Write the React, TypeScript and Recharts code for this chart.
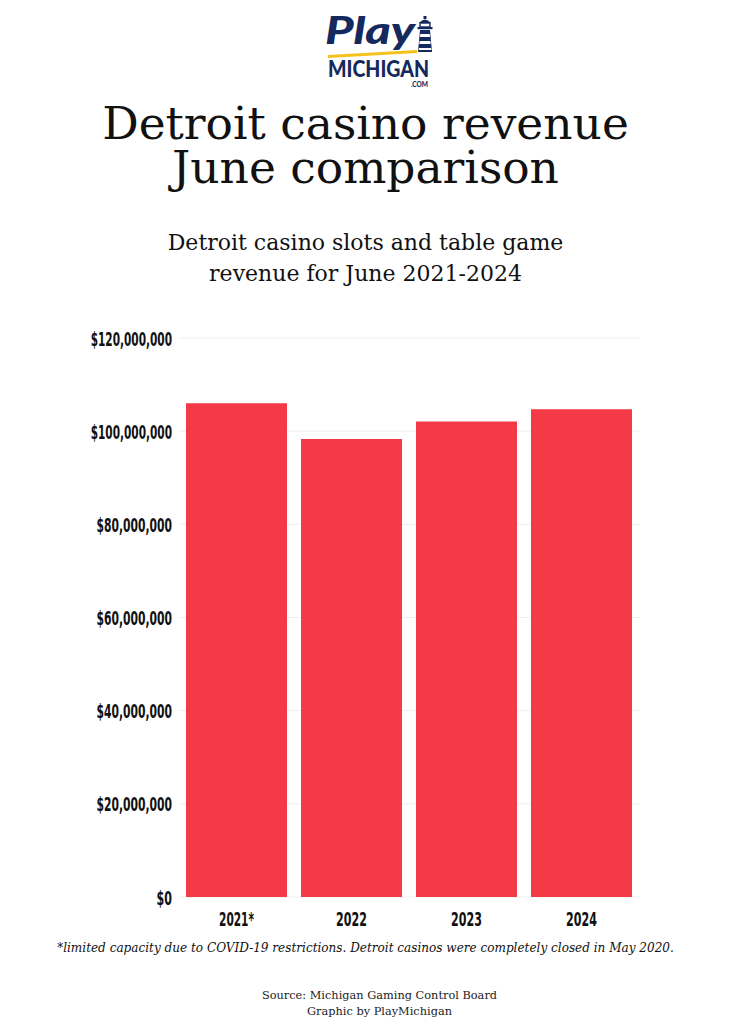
import { BarChart, Bar, XAxis, YAxis, CartesianGrid } from 'recharts'

const years = ['2021*', '2022', '2023', '2024']
const revenue = [106000000, 98300000, 102100000, 104700000]
const yTicks = [0, 20000000, 40000000, 60000000, 80000000, 100000000, 120000000]

const chartData = years.map((year, i) => ({ year, revenue: revenue[i] }))

const NAVY = '#14295e'
const BAR_RED = '#f43a46'

const fmtMoney = (v: number) => '$' + v.toLocaleString('en-US')

// the reference uses a very narrow gothic face, so squeeze DejaVu Condensed to fit
const squeezedWidth = (label: string) =>
  label.split('').reduce((w, ch) => w + (ch === ',' ? 3.1 : ch === '1' ? 5.8 : ch === '*' ? 6 : 7.7), 0)

const YTick = ({ x, y, payload }: any) => {
  const label = fmtMoney(payload.value)
  return (
    <text
      x={x}
      y={y}
      dy={7.5}
      textAnchor="end"
      fontFamily="DejaVu Sans Condensed"
      fontWeight="bold"
      fontSize={20}
      fill="#111"
      textLength={squeezedWidth(label)}
      lengthAdjust="spacingAndGlyphs"
    >
      {label}
    </text>
  )
}

const XTick = ({ x, y, payload }: any) => {
  const label = String(payload.value)
  return (
    <text
      x={x}
      y={y}
      dy={29}
      textAnchor="middle"
      fontFamily="DejaVu Sans Condensed"
      fontWeight="bold"
      fontSize={20}
      fill="#111"
      textLength={squeezedWidth(label)}
      lengthAdjust="spacingAndGlyphs"
    >
      {label}
    </text>
  )
}

const Logo = () => (
  <svg width={140} height={90} style={{ position: 'absolute', left: 310, top: 0 }}>
    <text x={15} y={44} fontFamily="Lato" fontStyle="italic" fontWeight={900} fontSize={38} fill={NAVY} textLength={90} lengthAdjust="spacingAndGlyphs">
      Play
    </text>
    <polygon points="18,55 107,50 107,53 18,58" fill="#f5c21b" />
    <text x={18} y={77} fontFamily="Lato" fontWeight={900} fontSize={23} fill={NAVY} textLength={101} lengthAdjust="spacingAndGlyphs">
      MICHIGAN
    </text>
    <text x={118} y={87} textAnchor="end" fontFamily="Lato" fontWeight={900} fontSize={6.5} fill={NAVY}>
      .COM
    </text>
    {/* lighthouse */}
    <rect x={113.5} y={16} width={3} height={3} fill={NAVY} />
    <path d="M109,23 Q115,16 121,23 Z" fill={NAVY} />
    <rect x={110} y={23} width={10} height={4} fill="none" stroke={NAVY} strokeWidth={1.4} />
    <rect x={107.5} y={27} width={15} height={2.2} fill={NAVY} />
    <polygon points="110,30 120,30 122,52 108,52" fill={NAVY} />
    <polygon points="110.3,34 119.7,34 120,37 110,37" fill="#fff" />
    <polygon points="109.6,41 120.4,41 120.7,44 109.3,44" fill="#fff" />
    <polygon points="108.9,48 121.1,48 121.3,50 108.7,50" fill="#fff" />
  </svg>
)

const titleStyle = {
  position: 'absolute' as const, left: 0, width: 731, height: 44, textAlign: 'center' as const,
  fontFamily: 'DejaVu Serif', fontSize: 45.5, lineHeight: '44px', color: '#111', whiteSpace: 'nowrap' as const,
}

export default function App() {
  return (
    <div style={{ position: 'absolute', left: 0, top: 0, width: 731, height: 1024, background: '#fff', overflow: 'hidden' }}>
      <Logo />
      <div style={{ ...titleStyle, top: 102 }}>Detroit casino revenue</div>
      <div style={{ ...titleStyle, top: 146 }}>June comparison</div>
      <div
        style={{
          position: 'absolute', top: 227, left: 0, width: 731, textAlign: 'center',
          fontFamily: 'DejaVu Serif', fontSize: 22, lineHeight: '31px', color: '#111',
        }}
      >
        Detroit casino slots and table game
        <br />
        revenue for June 2021-2024
      </div>

      <div style={{ position: 'absolute', top: 320, left: 0 }}>
        <BarChart width={731} height={620} data={chartData} margin={{ top: 18, right: 92, bottom: 13, left: 0 }}>
          <CartesianGrid vertical={false} stroke="#eeeeee" />
          <XAxis dataKey="year" axisLine={false} tickLine={false} tickSize={0} tickMargin={0} height={30} tick={<XTick />} interval={0} />
          <YAxis
            domain={[0, 120000000]}
            ticks={yTicks}
            axisLine={false}
            tickLine={false}
            tickSize={0}
            tickMargin={7}
            width={179}
            tick={<YTick />}
            interval={0}
          />
          <Bar dataKey="revenue" fill={BAR_RED} barSize={101} isAnimationActive={false} />
        </BarChart>
      </div>

      <div
        style={{
          position: 'absolute', top: 941, left: 0, width: 731, textAlign: 'center',
          fontFamily: 'DejaVu Serif', fontStyle: 'italic', fontSize: 12.05, color: '#111',
        }}
      >
        *limited capacity due to COVID-19 restrictions. Detroit casinos were completely closed in May 2020.
      </div>
      <div
        style={{
          position: 'absolute', top: 987, left: 14, width: 731, textAlign: 'center',
          fontFamily: 'DejaVu Serif', fontSize: 11.35, lineHeight: '16px', color: '#222',
        }}
      >
        Source: Michigan Gaming Control Board
        <br />
        Graphic by PlayMichigan
      </div>
    </div>
  )
}
